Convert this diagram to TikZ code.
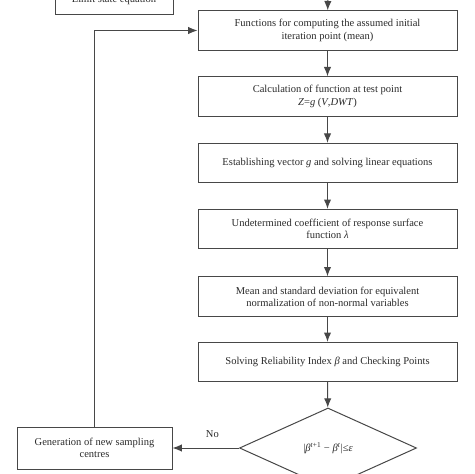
\documentclass[tikz,border=0pt]{standalone}
\usepackage{fontspec}
\setmainfont{Liberation Serif}
\usetikzlibrary{arrows.meta,shapes.geometric}

\definecolor{lineclr}{HTML}{474747}
\definecolor{textclr}{HTML}{2A2A2A}

\tikzset{every picture/.style={line width=0.75pt}}
\tikzset{
  stepbox/.style={draw=lineclr, rectangle, minimum width=194.25pt, minimum height=29.5pt,
    align=center, text=textclr, inner sep=1pt, font=\fontsize{7.9}{9.2}\selectfont},
  flowarrow/.style={draw=lineclr, -{Latex[length=7pt,width=5.5pt]}},
}

\begin{document}
\begin{tikzpicture}[x=0.75pt,y=0.75pt,yscale=-1,xscale=1]
\useasboundingbox (0,0) rectangle (474,474);
\clip (0,0) rectangle (474,474);

%Shape: Rectangle (cut at top)
\node [stepbox, minimum width=88.5pt, minimum height=22pt] (limit) at (114,0) {Limit state equation};
%Main column
\node [stepbox] (init) at (327.5,30.5) {Functions for computing the assumed initial\\iteration point (mean)};
\node [stepbox] (calc) at (327.5,96.5) {Calculation of function at test point\\\textit{Z}=\textit{g} (\textit{V},\textit{DWT})};
\node [stepbox] (vect) at (327.5,163) {Establishing vector \textit{g} and solving linear equations};
\node [stepbox] (coef) at (327.5,229) {Undetermined coefficient of response surface\\function \textit{λ}};
\node [stepbox] (norm) at (327.5,296.5) {Mean and standard deviation for equivalent\\normalization of non-normal variables};
\node [stepbox] (solve) at (327.5,362) {Solving Reliability Index \textit{β} and Checking Points};
%Shape: Diamond
\node [draw=lineclr, diamond, aspect=2.2, minimum width=132.75pt, minimum height=60pt, inner sep=0pt,
  text=textclr, font=\fontsize{7.9}{9.2}\selectfont] (check) at (328,448)
  {|\textit{β}\textsuperscript{\textit{t}+1} − \textit{β}\textsuperscript{\textit{t}}|≤\textit{ε}};
%Shape: Rectangle
\node [stepbox, minimum width=116.25pt, minimum height=31.5pt] (newc) at (94.5,448) {Generation of new sampling\\centres};

%Free ends above the picture
\coordinate (topin) at (328,-12);
\coordinate (topleft) at (200,-14);

%Straight Lines
\draw [flowarrow] (topin) -- (init);
\draw [flowarrow] (topleft) -- (limit.east);
\draw [flowarrow] (init) -- (calc);
\draw [flowarrow] (calc) -- (vect);
\draw [flowarrow] (vect) -- (coef);
\draw [flowarrow] (coef) -- (norm);
\draw [flowarrow] (norm) -- (solve);
\draw [flowarrow] (solve) -- (check);
\draw [flowarrow] (check) -- node [above, pos=0.4, yshift=4pt, text=textclr, font=\fontsize{7.9}{9.2}\selectfont] (nolbl) {No} (newc);
\draw [flowarrow] (newc.north) |- (init.west);

\end{tikzpicture}
\end{document}
